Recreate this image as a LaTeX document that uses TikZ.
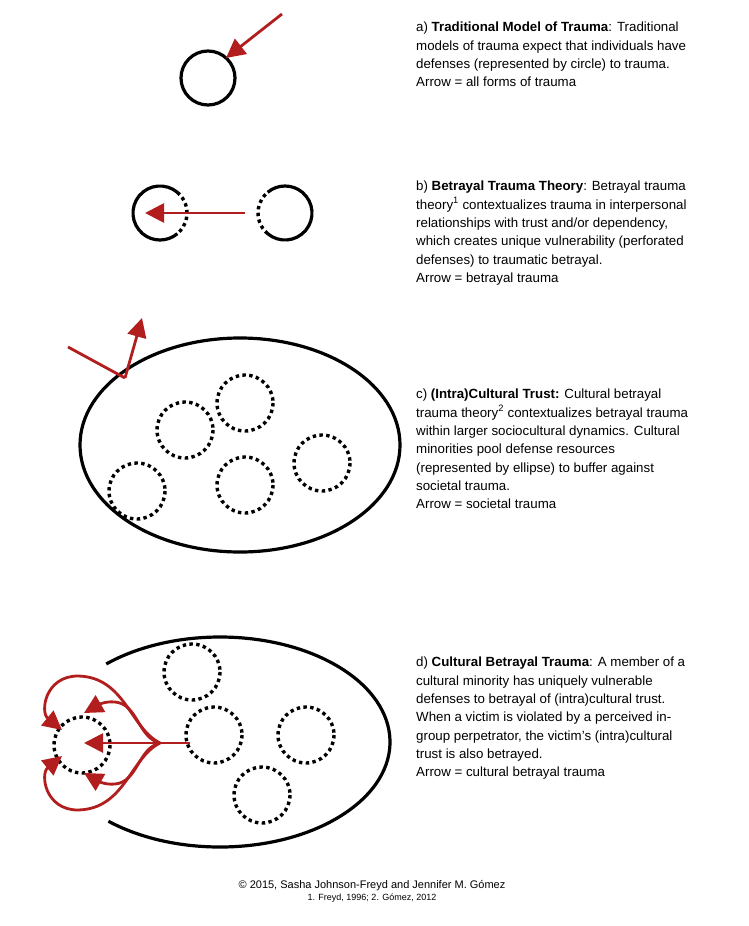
\documentclass[tikz,border=0pt]{standalone}
\usepackage{fontspec}
\setmainfont{Liberation Sans}
\usetikzlibrary{arrows.meta}
\definecolor{tred}{RGB}{178,30,30}
\begin{document}
\begin{tikzpicture}[x=1pt,y=-1pt,
  solid circ/.style={draw,line width=3.2pt},
  dot circ/.style={draw,line width=3.4pt,dash pattern=on 3.4pt off 3.4pt},
  tarrow/.style={draw=tred,line width=2.8pt,-{Triangle[length=19pt,width=19pt]}},
  tline/.style={draw=tred,line width=2.8pt},
  txt/.style={anchor=north west,align=left,font=\fontsize{13.3}{18.3}\selectfont,inner sep=0pt}]
\useasboundingbox (0,0) rectangle (749,926);
% panel a
\node[circle,solid circ,minimum size=54pt,inner sep=0pt] (ca) at (208,78) {};
\coordinate (a0) at (282,14);
\draw[tarrow] (a0) -- (226,58);
\node[txt] (ta) at (416,22) {a) \textbf{Traditional Model of Trauma}: Traditional\\models of trauma expect that individuals have\\defenses (represented by circle) to trauma.\\Arrow = all forms of trauma};
% panel b
\draw[line width=3.2pt] (160,213) ++(-50:27) arc (-50:-310:27);
\draw[dot circ] (160,213) ++(-50:27) arc (-50:50:27);
\draw[line width=3.2pt] (285,213) ++(130:27) arc (130:-130:27);
\draw[dot circ] (285,213) ++(130:27) arc (130:230:27);
\coordinate (b0) at (245,213);
\coordinate (b1) at (145,213);
\draw[tarrow] (b0) -- (b1);
\node[txt] (tb) at (416,181) {b) \textbf{Betrayal Trauma Theory}: Betrayal trauma\\theory\textsuperscript{1} contextualizes trauma in interpersonal\\relationships with trust and/or dependency,\\which creates unique vulnerability (perforated\\defenses) to traumatic betrayal.\\Arrow = betrayal trauma};
% panel c
\draw[line width=3.2pt] (240,445) ellipse [x radius=160,y radius=107];
\foreach \p in {(245,403),(185,430),(137,491),(245,485),(322,463)}
  \draw[dot circ] \p circle (28);
\coordinate (c0) at (68,347);
\coordinate (c1) at (125,378);
\draw[tline] (c0) -- (c1);
\draw[tarrow] (c1) -- (142,318);
\node[txt] (tc) at (416,389) {c) \textbf{(Intra)Cultural Trust:} Cultural betrayal\\trauma theory\textsuperscript{2} contextualizes betrayal trauma\\within larger sociocultural dynamics. Cultural\\minorities pool defense resources\\(represented by ellipse) to buffer against\\societal trauma.\\Arrow = societal trauma};
% panel d
\draw[line width=3.2pt] (220,742) ++(131:170 and 105) arc [start angle=131,end angle=-132,x radius=170,y radius=105];
\foreach \p in {(192,672),(214,735),(306,735),(262,795),(82,745)}
  \draw[dot circ] \p circle (28);
\coordinate (d0) at (190,743);
\coordinate (d1) at (160,743);
\draw[tline] (d0) -- (d1);
\draw[tarrow] (d1) -- (84,743);
\draw[tarrow] (d1) .. controls (138,738) and (138,704) .. (115,702) .. controls (105,701) and (98,705) .. (84,713);
\draw[tarrow] (d1) .. controls (138,748) and (138,782) .. (115,784) .. controls (105,785) and (98,781) .. (84,773);
\draw[tarrow] (d1) .. controls (130,728) and (125,677) .. (78,676) .. controls (45,676) and (40,712) .. (62,730);
\draw[tarrow] (d1) .. controls (130,758) and (125,809) .. (78,810) .. controls (45,810) and (40,774) .. (62,756);
\node[txt] (td) at (416,657) {d) \textbf{Cultural Betrayal Trauma}: A member of a\\cultural minority has uniquely vulnerable\\defenses to betrayal of (intra)cultural trust.\\When a victim is violated by a perceived in-\\group perpetrator, the victim’s (intra)cultural\\trust is also betrayed.\\Arrow = cultural betrayal trauma};
% footer
\node[font=\fontsize{11}{13}\selectfont,align=center,anchor=north] (ft) at (372,877) {© 2015, Sasha Johnson-Freyd and Jennifer M. Gómez\\[-1pt]{\fontsize{9}{11}\selectfont 1. Freyd, 1996; 2. Gómez, 2012}};
\end{tikzpicture}
\end{document}
